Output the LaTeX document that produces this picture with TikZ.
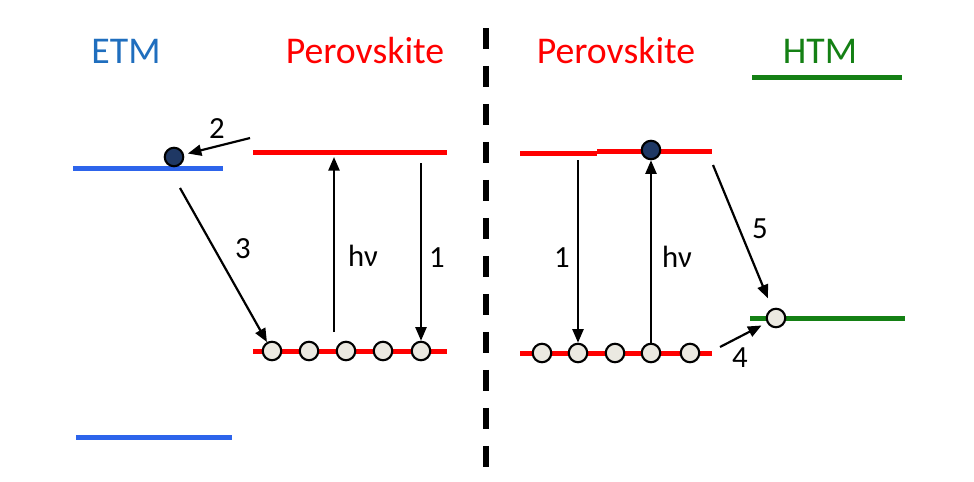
\documentclass[tikz,border=0pt]{standalone}
\usepackage{fontspec}
\setmainfont{Carlito}
\usetikzlibrary{arrows.meta}
\definecolor{etmblue}{RGB}{31,110,190}
\definecolor{lvlblue}{RGB}{45,100,235}
\definecolor{pvkred}{RGB}{255,0,0}
\definecolor{htmgreen}{RGB}{20,128,20}
\definecolor{elecnavy}{RGB}{31,56,100}
\definecolor{holegray}{RGB}{235,233,225}
\begin{document}
\begin{tikzpicture}[x=0.02cm, y=-0.02cm,
    level/.style={line width=0.1cm},
    hole/.style={circle, draw=black, line width=1.2pt, fill=holegray, minimum size=0.37cm, inner sep=0pt},
    elec/.style={hole, fill=elecnavy},
    jump/.style={-{Triangle[length=0.27cm, width=0.22cm]}, line width=1.25pt},
    title/.style={anchor=base, font=\fontsize{21.5}{24}\selectfont},
    num/.style={anchor=base, font=\fontsize{17.5}{20}\selectfont}]
    \useasboundingbox (0,0) rectangle (974,481);

    % 中间的虚线
    \draw[line width=0.11cm, dash pattern=on 0.42cm off 0.34cm] (486,28) -- (486,470);

    % 标题
    \node[title, etmblue] (etm) at (126,63) {ETM};
    \node[title, pvkred] (pvkL) at (365,63) {Perovskite};
    \node[title, pvkred] (pvkR) at (616,63) {Perovskite};
    \node[title, htmgreen] (htm) at (820,63) {HTM};

    % 1. 能级
    \draw[level, lvlblue] (73,168) -- (223,168);
    \draw[level, lvlblue] (76,437) -- (232,437);
    \draw[level, pvkred] (253,152) -- (447,152);
    \draw[level, pvkred] (253,351) -- (447,351);
    \draw[level, pvkred] (520,153) -- (597,153);
    \draw[level, pvkred] (597,151) -- (712,151);
    \draw[level, pvkred] (520,353) -- (712,353);
    \draw[level, htmgreen] (752,77) -- (902,77);
    \draw[level, htmgreen] (750,318) -- (905,318);

    % 2. 电子和空穴
    \foreach \x [count=\i] in {272,309,346,383,421}
      \node[hole] (hL\i) at (\x,351) {};
    \foreach \x [count=\i] in {542,578,615,651,690}
      \node[hole] (hR\i) at (\x,353) {};
    \node[elec] (eL) at (174,157) {};
    \node[elec] (eR) at (651,150) {};
    \node[hole] (hH) at (776,318) {};

    % 3. 左边的跃迁
    \coordinate (s2) at (250,138);
    \draw[jump, shorten >=0.08cm] (s2) -- (eL);
    \node[num] (n2) at (217,138) {2};
    \coordinate (s3) at (180,188);
    \draw[jump] (s3) -- (hL1);
    \node[num] (n3) at (243,258) {3};
    \coordinate (gL) at (334,332);
    \coordinate (cL) at (334,157);
    \draw[jump] (gL) -- (cL);
    \node[num] (hvL) at (363,266) {hν};
    \coordinate (s1L) at (421,163);
    \draw[jump] (s1L) -- (hL5.north);
    \node[num] (n1L) at (437,267) {1};

    % 4. 右边的跃迁
    \coordinate (s1R) at (578,160);
    \draw[jump] (s1R) -- (hR2.north);
    \node[num] (n1R) at (562,267) {1};
    \draw[jump] (hR4) -- (eR);
    \node[num] (hvR) at (677,267) {hν};
    \coordinate (s5) at (713,165);
    \draw[jump, shorten >=0.22cm] (s5) -- (hH);
    \node[num] (n5) at (760,238) {5};
    \coordinate (s4) at (720,347);
    \draw[jump, shorten >=0.12cm] (s4) -- (hH);
    \node[num] (n4) at (740,367) {4};
  \end{tikzpicture}
\end{document}
